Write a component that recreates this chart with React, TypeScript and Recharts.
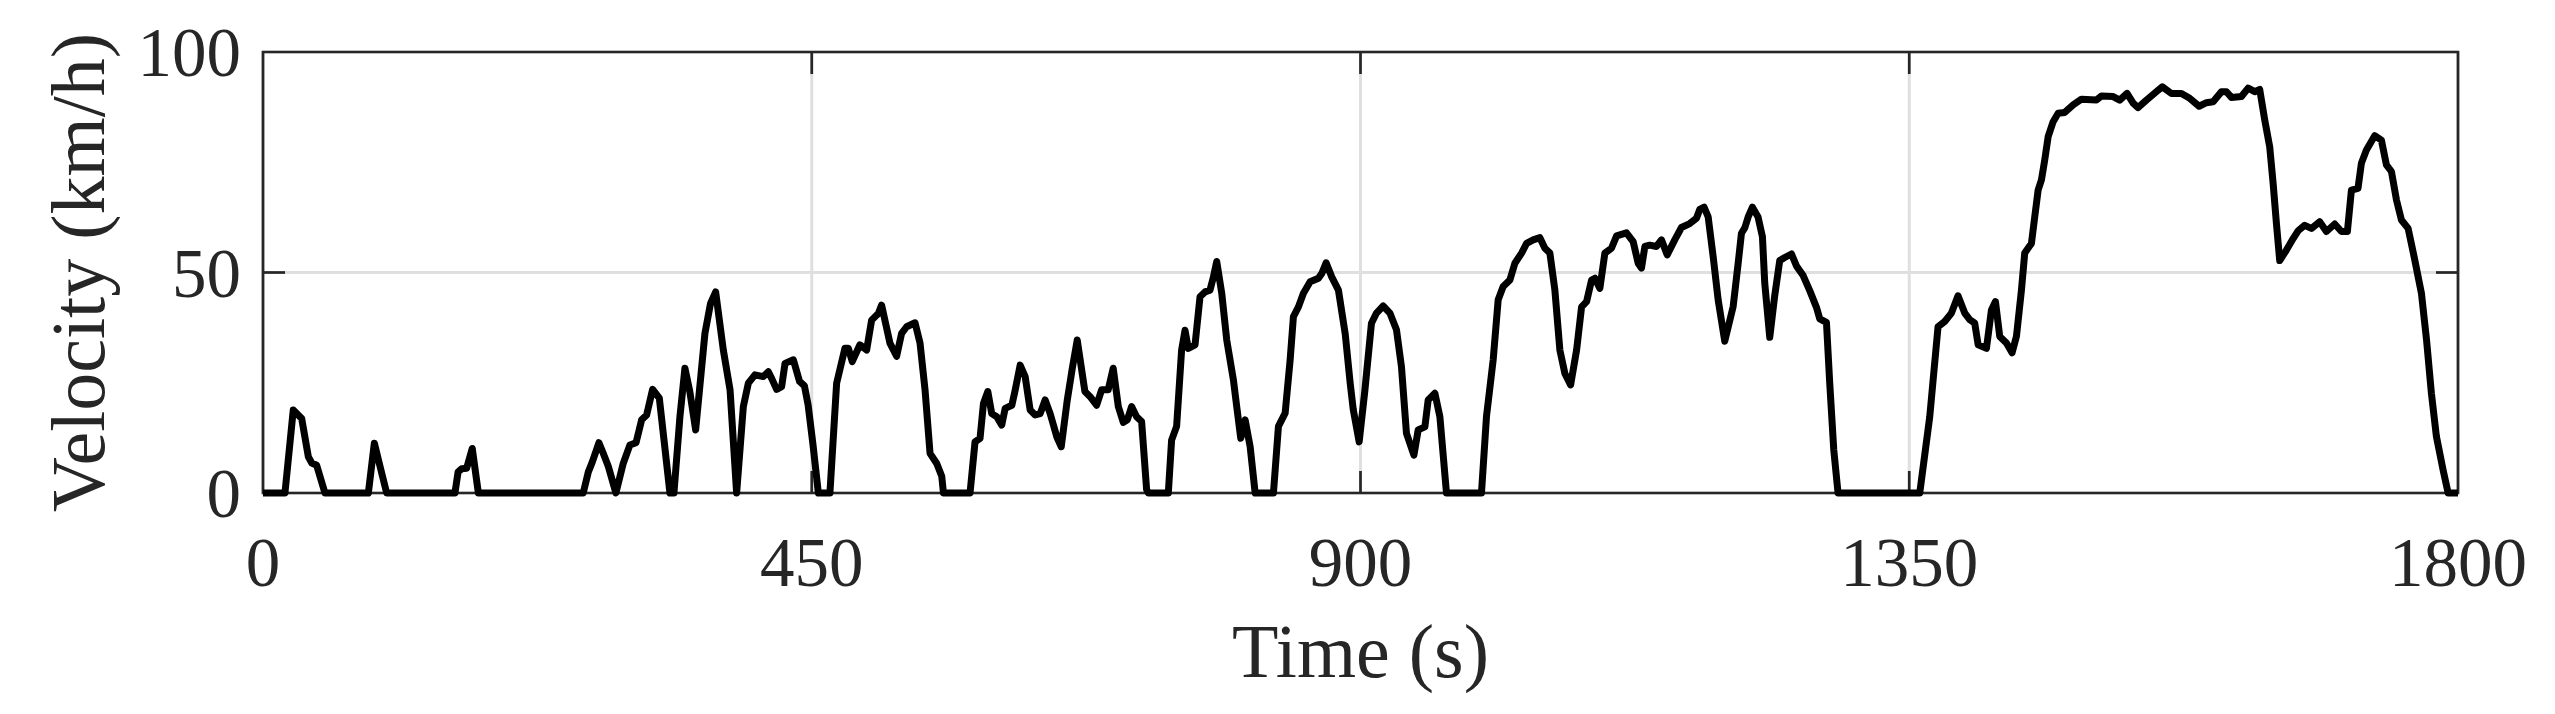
import { LineChart, Line, XAxis, YAxis, CartesianGrid, ReferenceArea, ReferenceLine } from 'recharts';

// drive cycle
const timeS = [
  0, 18, 24.8, 31.7, 37.2, 40, 44, 50.8, 86.4, 91.3, 96, 101.4, 157.4, 160, 163, 167, 171.6, 176.6,
  262.6, 266.8, 270, 275.5, 279, 283.2, 289.4, 295.4, 300.9, 305.9, 310.5, 314.6, 319.5, 325, 333.7, 337,
  341.9, 346, 350, 354.8, 362.4, 367, 371.2, 377.5, 383, 388.4, 393.9, 398, 403.4, 410.3, 414.4, 417.1,
  421.2, 425.3, 428.1, 434.9, 440, 444, 447, 451, 455.4, 464.9, 470.4, 477.2, 480, 483.2, 489.5, 495,
  499.1, 504.6, 507.3, 514.1, 519.6, 523.7, 527.8, 534.7, 538.8, 542.9, 547, 552.5, 556.6, 558, 579.8,
  583.9, 588, 590.8, 594.4, 597.6, 601.7, 605.8, 608.6, 614.1, 616.8, 620.9, 625, 629.1, 633.2, 637.3,
  641.4, 645.5, 651, 654.6, 659.5, 663.5, 667.7, 674, 678.1, 683.6, 687.7, 693.1, 697.2, 701.4, 705.5,
  708.8, 712.3, 716.4, 720.5, 724.6, 726, 742.4, 745.1, 749.2, 753.3, 756.1, 758.8, 764.3, 768.4, 772.5,
  776.6, 779.4, 782.1, 786.2, 790.3, 795.8, 798.5, 801.8, 805.4, 809.5, 813.6, 828.6, 832.7, 838.2, 842.3,
  845, 849.1, 853.2, 858.7, 865.5, 868.3, 871.8, 876.4, 881.9, 887.5, 891.5, 894, 898.9, 903.6, 909,
  913.1, 918.6, 924.1, 929.5, 933.6, 937.7, 943.8, 947.3, 952.8, 955.5, 961, 965.1, 970.5, 999.2, 1003.3,
  1008.8, 1012.9, 1017, 1022.5, 1026.6, 1032.1, 1036.2, 1041.6, 1047.1, 1051.2, 1055.3, 1059.4, 1063.5,
  1067.6, 1072.3, 1077.2, 1081.3, 1085.4, 1089.5, 1092.2, 1096.3, 1100.4, 1105.8, 1110, 1118.1, 1123.6,
  1127.7, 1130.4, 1133.2, 1137.2, 1142.7, 1146.8, 1151.5, 1157.7, 1163.2, 1170, 1175.5, 1178.2, 1181.8,
  1185.1, 1189.2, 1193.3, 1198.7, 1205.6, 1209.7, 1212.4, 1215.1, 1217.9, 1221.4, 1226, 1229.6, 1231.5,
  1235.6, 1239.7, 1243.8, 1247.9, 1253.4, 1257.5, 1263, 1268.4, 1273.9, 1276.6, 1282.1, 1284.8, 1288.1,
  1291.6, 1358.6, 1366.8, 1373.6, 1379.1, 1384.6, 1390, 1395.5, 1399.6, 1403.7, 1406.5, 1413.3, 1417.4,
  1420.7, 1424.2, 1429.7, 1434.3, 1437.9, 1442, 1444.7, 1450.2, 1452.9, 1455.7, 1458.4, 1461.1, 1463.9,
  1468, 1472.1, 1477.5, 1484.4, 1491.2, 1503.5, 1507.6, 1517.2, 1522.6, 1528.6, 1533.6, 1537.6, 1544.5,
  1552.7, 1557.6, 1565, 1573.2, 1580, 1587.7, 1593.7, 1599.2, 1606, 1610.1, 1614.2, 1622.4, 1627.9,
  1633.3, 1637.4, 1641.5, 1645.6, 1648.4, 1651.1, 1653.8, 1659.3, 1664.8, 1669, 1674.3, 1679.8, 1686.6,
  1692.1, 1698.9, 1704.4, 1709.3, 1712.6, 1718, 1720.8, 1724.9, 1731.7, 1737.2, 1741.3, 1745.4, 1749.5,
  1753.6, 1759.1, 1764.6, 1770, 1774.2, 1778.2, 1782.3, 1787.8, 1791.9, 1800,
];

const velocityKmh = [
  0, 0, 18.8, 16.9, 8.2, 6.8, 6.3, 0, 0, 11.3, 6, 0, 0, 4.8, 5.5, 5.6, 10.1, 0,
  0, 4.8, 7, 11.4, 9, 6.0, 0, 6.7, 10.9, 11.4, 16.6, 17.7, 23.5, 21.5, 0, 0,
  17.3, 28.3, 23, 14.3, 36.2, 43, 45.6, 32.4, 23.4, 0, 19.6, 24.9, 26.8, 26.4, 27.5, 26.0,
  23.5, 24.1, 29.4, 30.2, 25.3, 24.3, 20, 11, 0, 0, 24.9, 32.8, 32.8, 29.8, 33.6, 32.4,
  39.2, 40.7, 42.6, 34.0, 31.0, 36.2, 37.7, 38.6, 34.0, 23.4, 9.0, 6.7, 3.8, 0, 0,
  11.6, 12.4, 20.3, 23.0, 18.0, 17.3, 15.4, 19.2, 19.9, 23.3, 29.0, 26.4, 18.8, 17.7, 18.0,
  21.1, 18.0, 12.7, 10.5, 21, 28, 34.7, 23.0, 21.9, 19.9, 23.4, 23.4, 28.3, 19.6, 16.0,
  16.6, 19.6, 17.3, 16.2, 0.8, 0, 0, 12.0, 15.1, 32.4, 36.9, 32.8, 33.6, 44.5, 45.6,
  46.0, 49.0, 52.5, 45.3, 34.7, 25.6, 19.6, 12.4, 16.6, 10.5, 0, 0, 15.1, 18.1, 30.2,
  40.0, 42.2, 45.3, 47.9, 48.7, 49.8, 52.2, 49.0, 46.0, 36, 25, 19, 11.6, 23.3, 38.5,
  40.8, 42.4, 40.8, 37.0, 28.6, 13.5, 8.6, 14.3, 15.0, 21.1, 22.6, 17.3, 0, 0, 17.3,
  30.2, 43.8, 46.8, 48.3, 52.1, 54.4, 56.6, 57.4, 57.9, 55.5, 54.4, 46.0, 32.4,
  27.1, 24.5, 32.4, 42.2, 43.4, 48.3, 48.7, 46.4, 54.4, 55.5, 58.3, 59.0, 57.0,
  52.1, 51.0, 55.9, 56.2, 55.9, 57.4, 54.0, 57.4, 60.2, 61.1, 62.3, 64.3, 64.8,
  62.6, 53.6, 43.8, 34.4, 42.3, 52.1, 58.9, 60.1, 62.6, 64.8, 62.6, 58.1, 47.6,
  35.3, 44.8, 52.7, 53.4, 54.2, 51.5, 49.3, 45.9, 42.1, 39.5, 38.7, 24.9, 9.8,
  0, 0, 17.3, 37.7, 38.9, 40.8, 44.7, 40.8, 39.3, 38.5, 33.6, 32.8, 41.5,
  43.4, 35.5, 34.0, 31.8, 35.5, 46.0, 54.4, 56.6, 62.6, 68.7, 71.0, 75.5, 80.8,
  84.2, 86.1, 86.3, 88.0, 89.3, 89.1, 90.0, 89.9, 89.1, 90.6, 88.4, 87.4, 89.1,
  91.0, 92.1, 90.6, 90.6, 89.5, 87.7, 88.5, 88.7, 91.0, 91.0, 89.7, 89.9, 91.8,
  91.0, 91.5, 84.6, 78.5, 70.2, 61.1, 52.7, 55.1, 57.7, 59.5, 60.7, 60.0, 61.5,
  59.3, 61.0, 59.3, 59.3, 68.7, 69.1, 74.8, 77.8, 81.0, 80.0, 74.4, 72.9, 66.5,
  61.9, 60.0, 52.8, 45.3, 34.7, 22.6, 12.8, 5.2, 0, 0,
];

const xTicks = [0, 450, 900, 1350, 1800];
const yTicks = [0, 50, 100];

const data = timeS.map((t, i) => ({ t, v: velocityKmh[i] }));

const INK = '#262626';
const FONT = '"Liberation Serif", "Times New Roman", serif';

// inward tick marks, ~22px long in data units
const tickLenY = (22 / 441) * 100;
const tickLenX = (22 / 2195) * 1800;

export default function App() {
  return (
    <div style={{ position: 'absolute', left: 0, top: 0, background: '#fff' }}>
      <LineChart
        width={2555}
        height={714}
        data={data}
        margin={{ top: 52, right: 97, bottom: 21, left: -109 }}
      >
        <CartesianGrid stroke="#dfdfdf" strokeWidth={3} />
        <XAxis
          dataKey="t"
          type="number"
          domain={[0, 1800]}
          ticks={xTicks}
          height={200}
          axisLine={false}
          tickLine={false}
          tickSize={0}
          tickMargin={44}
          tick={{ fill: INK, fontSize: 69, fontFamily: FONT }}
          label={{ value: 'Time (s)', position: 'insideBottom', offset: 16, fill: INK, fontSize: 76, fontFamily: FONT }}
        />
        <YAxis
          type="number"
          domain={[0, 100]}
          ticks={yTicks}
          width={372}
          axisLine={false}
          tickLine={false}
          tickSize={0}
          tickMargin={22}
          tick={{ fill: INK, fontSize: 69, fontFamily: FONT }}
          label={{ value: 'Velocity (km/h)', angle: -90, position: 'center', fill: INK, fontSize: 76, fontFamily: FONT }}
        />
        {xTicks.slice(1, -1).map((x) => (
          <ReferenceLine key={'b' + x} segment={[{ x, y: 0 }, { x, y: tickLenY }]} stroke={INK} strokeWidth={2.7} />
        ))}
        {xTicks.slice(1, -1).map((x) => (
          <ReferenceLine key={'t' + x} segment={[{ x, y: 100 }, { x, y: 100 - tickLenY }]} stroke={INK} strokeWidth={2.7} />
        ))}
        {yTicks.slice(1, -1).map((y) => (
          <ReferenceLine key={'l' + y} segment={[{ x: 0, y }, { x: tickLenX, y }]} stroke={INK} strokeWidth={2.7} />
        ))}
        {yTicks.slice(1, -1).map((y) => (
          <ReferenceLine key={'r' + y} segment={[{ x: 1800, y }, { x: 1800 - tickLenX, y }]} stroke={INK} strokeWidth={2.7} />
        ))}
        <ReferenceArea x1={0} x2={1800} y1={0} y2={100} fill="none" fillOpacity={0} stroke={INK} strokeWidth={2.7} />
        <Line
          type="linear"
          dataKey="v"
          stroke="#000"
          strokeWidth={7}
          strokeLinejoin="round"
          dot={false}
          isAnimationActive={false}
        />
      </LineChart>
    </div>
  );
}
